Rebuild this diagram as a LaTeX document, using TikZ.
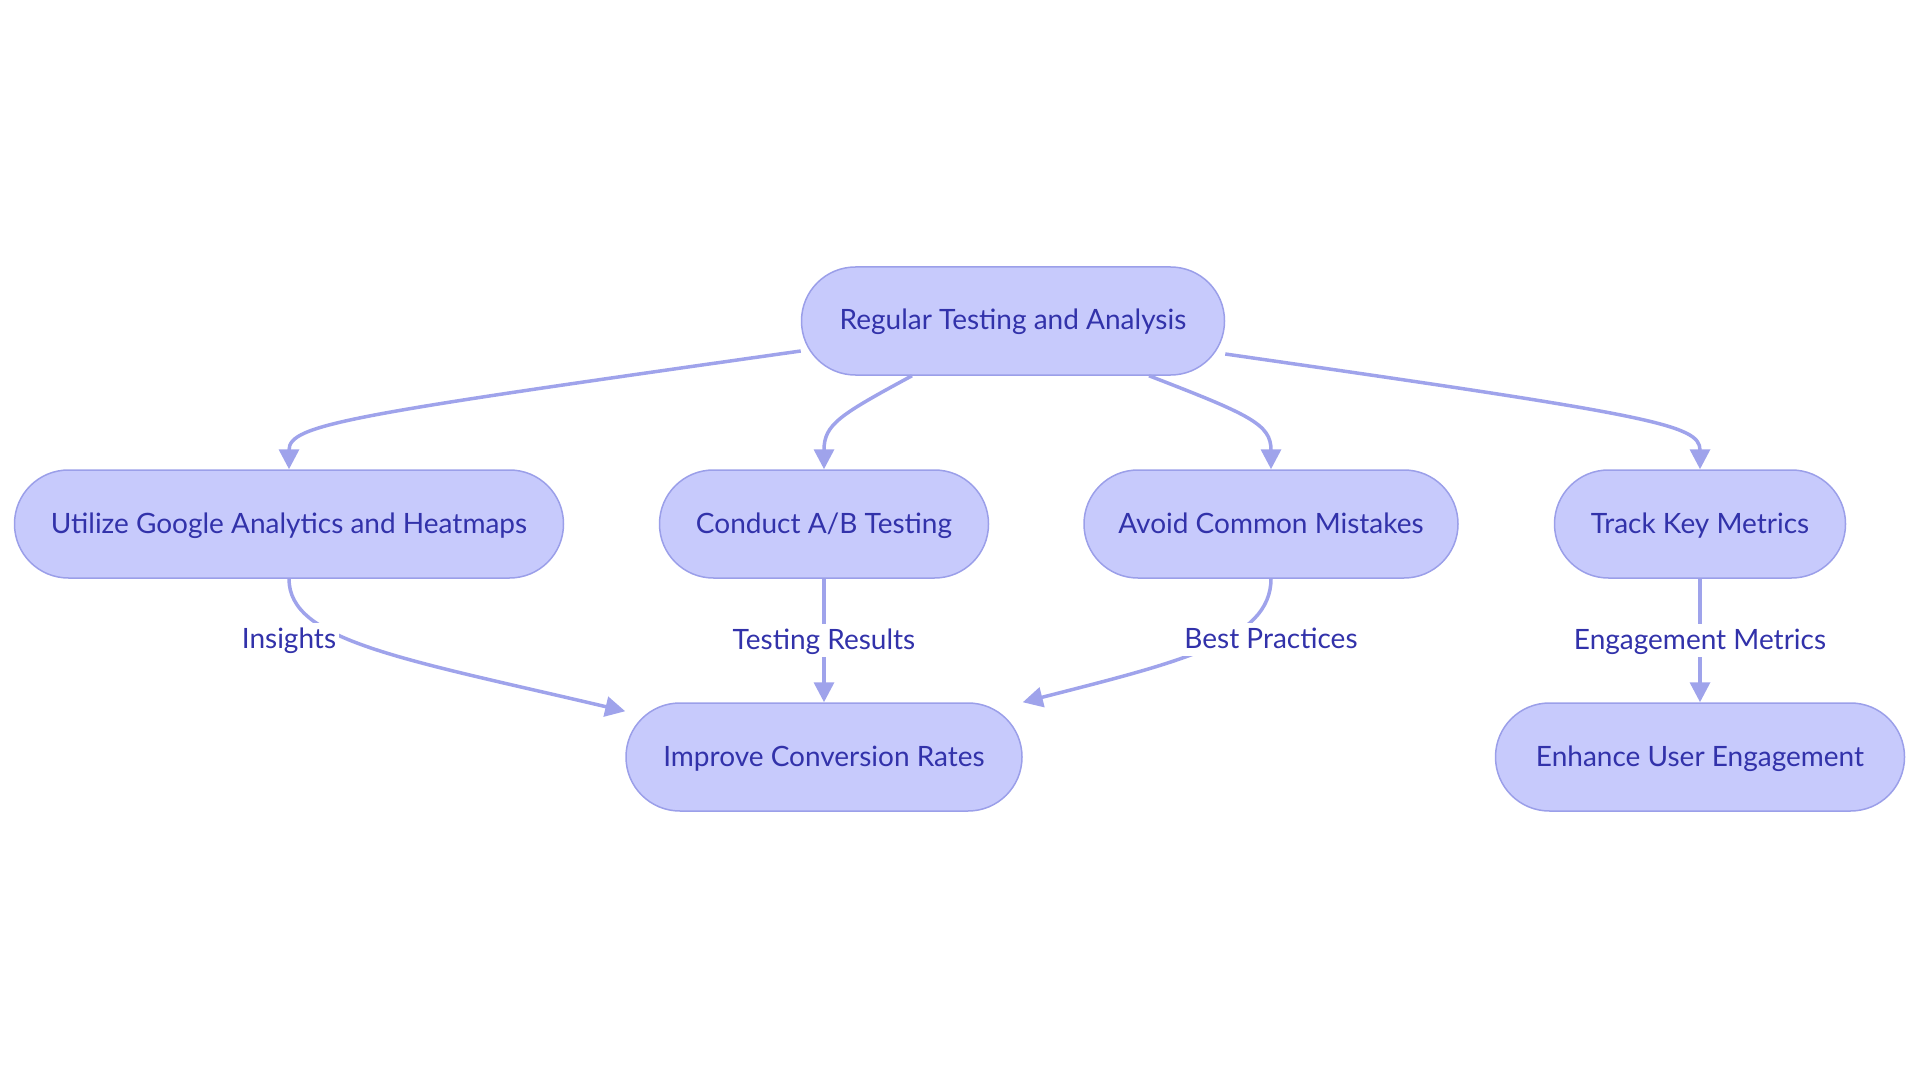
\documentclass[tikz,border=0pt]{standalone}
\usepackage{fontspec}
\setmainfont{Lato}
\usetikzlibrary{arrows.meta,positioning}
\definecolor{pillfill}{HTML}{C7CAFC}
\definecolor{pillline}{HTML}{9B9FE9}
\definecolor{linkline}{HTML}{9FA3EB}
\definecolor{inkblue}{HTML}{3232AA}
\tikzset{
  pill/.style={draw=pillline, line width=1.5pt, fill=pillfill, rounded corners=53.9pt,
    minimum height=108pt, inner sep=0pt, text height=22pt, text depth=4pt,
    text=inkblue, font=\fontsize{28}{33}\selectfont},
  elabel/.style={fill=white, inner sep=3pt, text height=22pt, text depth=5pt,
    text=inkblue, font=\fontsize{28}{33}\selectfont},
  link/.style={draw=linkline, line width=3.5pt, -{Triangle[length=20pt,width=20pt]}},
}
\begin{document}
\begin{tikzpicture}[x=1pt,y=-1pt]
\useasboundingbox (0,0) rectangle (1920,1083);

  % nodes
  \node[pill, minimum width=423pt] (reg) at (1013,321) {Regular Testing and Analysis};
  \node[pill, minimum width=549pt] (util) at (289,524) {Utilize Google Analytics and Heatmaps};
  \node[pill, minimum width=329pt] (ab) at (824,524) {Conduct A/B Testing};
  \node[pill, minimum width=374pt] (avoid) at (1271,524) {Avoid Common Mistakes};
  \node[pill, minimum width=291pt] (track) at (1700,524) {Track Key Metrics};
  \node[pill, minimum width=396pt] (impr) at (824,757) {Improve Conversion Rates};
  \node[pill, minimum width=409pt] (enh) at (1700,757) {Enhance User Engagement};

  % links from the top
  \draw[link] ([yshift=-30pt]reg.west) .. controls +(-452,64) and +(0,-45) .. (util.north);
  \draw[link] ([xshift=-101pt]reg.south) .. controls +(-72,39) and +(0,-45) .. (ab.north);
  \draw[link] ([xshift=136pt]reg.south) .. controls +(101,39) and +(0,-45) .. (avoid.north);
  \draw[link] ([yshift=-33pt]reg.east) .. controls +(425,61) and +(0,-45) .. (track.north);

  % links to the results
  \draw[link] (util.south) .. controls +(0,62) and +(-225,-53) .. ([yshift=-9pt]impr.north west);
  \draw[link] (ab.south) -- (impr.north) node[elabel, midway] (tres) {Testing Results};
  \draw[link] (avoid.south) .. controls +(0,62) and +(156,-40) .. (impr.north east);
  \draw[link] (track.south) -- (enh.north) node[elabel, midway] (emet) {Engagement Metrics};

  \node[elabel] (ins) at ([yshift=-61pt]util.south) {Insights};
  \node[elabel] (bestp) at ([yshift=-61pt]avoid.south) {Best Practices};
\end{tikzpicture}
\end{document}
